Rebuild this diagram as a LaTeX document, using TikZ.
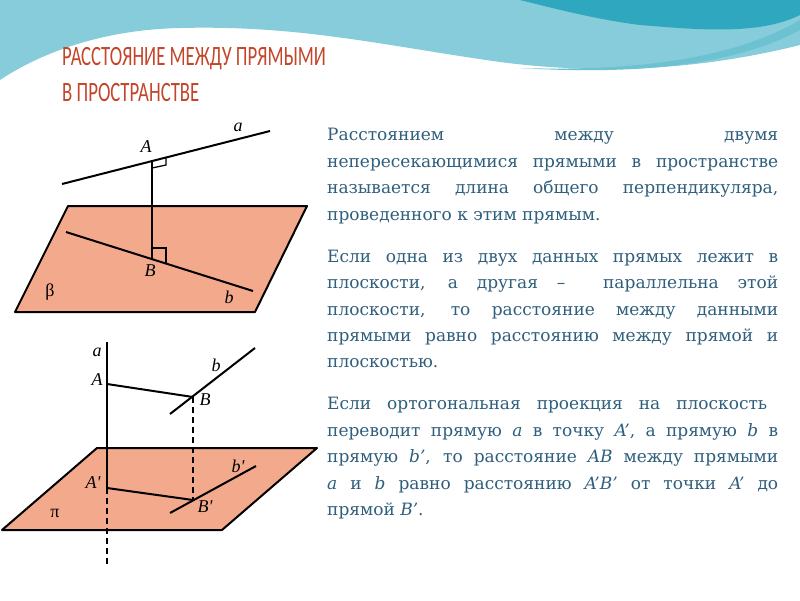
\documentclass[tikz,border=0pt]{standalone}
\usepackage{fontspec}
\setmainfont{DejaVu Serif}
\newfontfamily\titlefont{Carlito}
\newfontfamily\figfont{Liberation Serif}
\begin{document}
\begin{tikzpicture}[x=1pt,y=-1pt,
  ln/.style={line width=2pt},
  pl/.style={fill=plane,draw=black,line width=2pt,line join=round},
  fl/.style={font=\figfont\itshape\fontsize{18}{18}\selectfont,inner sep=0pt},
  tl/.style={anchor=base west,inner sep=0pt,text=txt,font=\fontsize{17}{20}\selectfont},
  tt/.style={anchor=base west,inner sep=0pt,text=ttl,font=\titlefont\fontsize{28}{30}\selectfont}]
\definecolor{plane}{HTML}{F2A98C}
\definecolor{txt}{HTML}{2F5F7C}
\definecolor{ttl}{HTML}{C4462A}
\definecolor{wave1}{HTML}{86CCDA}
\definecolor{wave2}{HTML}{2FA8BF}
\useasboundingbox (0,0) rectangle (800,600);
\fill[white] (0,0) rectangle (800,600);
% header waves
\fill[wave1] (0,0) -- (800,0) -- (800,45) .. controls (700,70) and (600,75) .. (500,62)
  .. controls (380,45) and (300,25) .. (180,28) .. controls (90,30) and (30,60) .. (0,80) -- cycle;
\fill[wave2] (700,0) -- (800,0) -- (800,15) .. controls (760,35) and (700,30) .. (640,25) .. controls (600,20) and (560,10) .. (520,0) -- cycle;
\fill[wave2!70!white] (520,68) .. controls (650,72) and (740,55) .. (800,20) -- (800,30) .. controls (740,62) and (650,76) .. (520,68) -- cycle;
\node[tt] (t1) at (62,65) {\scalebox{0.67}[1]{РАССТОЯНИЕ МЕЖДУ ПРЯМЫМИ}};
\node[tt] (t2) at (62,101) {\scalebox{0.67}[1]{В ПРОСТРАНСТВЕ}};
% figure 1
\draw[pl] (68,206) -- (307,206) -- (255,312) -- (15,312) -- cycle;
\coordinate (A) at (152,162);
\coordinate (B) at (152,259);
\draw[ln] (62,184) -- (270,131);
\draw[ln] (66,232) -- (253,291);
\draw[line width=1.6pt] (A) -- (B);
\draw[line width=1.3pt] (152,168) -- (166,165) -- (166,158);
\draw[line width=1.3pt] (152,248) -- (166,248) -- (166,263);
\node[fl] (la) at (238,127) {a};
\node[fl] (lA) at (146,147) {A};
\node[fl] (lB) at (150,271) {B};
\node[fl] (lb) at (229,297) {b};
\node[fl,font=\figfont\fontsize{18}{18}\selectfont] (lbeta) at (50,292) {β};
% figure 2
\draw[pl] (97,448) -- (317,448) -- (222,530) -- (2,530) -- cycle;
\coordinate (A2) at (107,384);
\coordinate (B2) at (193,397);
\coordinate (Ap) at (107,488);
\coordinate (Bp) at (193,500);
\draw[ln] (107,342) -- (Ap);
\draw[ln,dashed,dash pattern=on 6pt off 4pt] (Ap) -- (107,566);
\draw[ln] (170,414) -- (255,348);
\draw[ln] (A2) -- (B2);
\draw[ln,dashed,dash pattern=on 6pt off 4pt] (B2) -- (Bp);
\draw[ln] (Ap) -- (Bp);
\draw[ln] (170,513) -- (256,466);
\node[fl] (l2a) at (97,352) {a};
\node[fl] (l2A) at (97,380) {A};
\node[fl] (l2B) at (205,400) {B};
\node[fl] (l2b) at (216,365) {b};
\node[fl] (l2bp) at (238,466) {b'};
\node[fl] (l2Ap) at (93,483) {A'};
\node[fl] (l2Bp) at (205,507) {B'};
\node[fl,font=\figfont\fontsize{18}{18}\selectfont] (lpi) at (55,513) {π};
% text
\def\W{451pt}
\node[tl] (p1) at (327,140) {\makebox[\W][s]{Расстоянием между двумя}};
\node[tl] (p2) at (327,167) {\makebox[\W][s]{непересекающимися прямыми в пространстве}};
\node[tl] (p3) at (327,193) {\makebox[\W][s]{называется длина общего перпендикуляра,}};
\node[tl] (p4) at (327,220) {проведенного к этим прямым.};
\node[tl] (q1) at (327,262) {\makebox[\W][s]{Если одна из двух данных прямых лежит в}};
\node[tl] (q2) at (327,288) {\makebox[\W][s]{плоскости, а другая –\ \ параллельна этой}};
\node[tl] (q3) at (327,315) {\makebox[\W][s]{плоскости, то расстояние между данными}};
\node[tl] (q4) at (327,341) {\makebox[\W][s]{прямыми равно расстоянию между прямой и}};
\node[tl] (q5) at (327,367) {плоскостью.};
\node[tl] (r1) at (327,409) {\makebox[440pt][s]{Если ортогональная проекция на плоскость}};
\node[tl] (r2) at (327,436) {\makebox[\W][s]{переводит прямую \textit{a} в точку \textit{A’}, а прямую \textit{b} в}};
\node[tl] (r3) at (327,462) {\makebox[\W][s]{прямую \textit{b’}, то расстояние \textit{AB} между прямыми}};
\node[tl] (r4) at (327,489) {\makebox[\W][s]{\textit{a} и \textit{b} равно расстоянию \textit{A’B’} от точки \textit{A’} до}};
\node[tl] (r5) at (327,515) {прямой \textit{B’}.};
\end{tikzpicture}
\end{document}
